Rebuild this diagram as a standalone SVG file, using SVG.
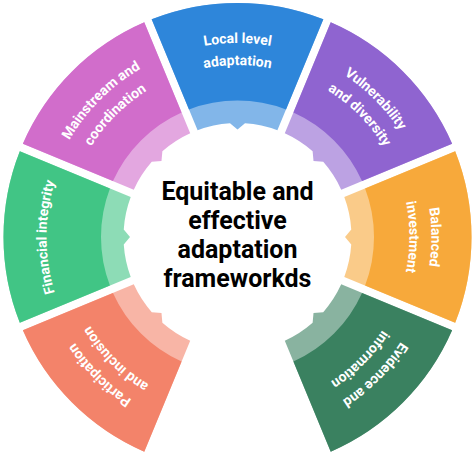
<svg xmlns="http://www.w3.org/2000/svg" xmlns:xlink="http://www.w3.org/1999/xlink" width="474" height="455" viewBox="0 0 474 455">
  <style>
    .l { fill-opacity: 0.6; }
    .lbl { font-family: Roboto, "Liberation Sans", sans-serif; font-weight: 700; font-size: 14px; fill: #FFFFFF; text-anchor: middle; }
    .ctr { font-family: Roboto, "Liberation Sans", sans-serif; font-weight: 700; font-size: 25px; fill: #000000; text-anchor: middle; }
  </style>
  <defs>
    <path id="light" d="M -85.84 -217.69 A 234 234 0 0 1 85.84 -217.69 L 39.90 -106.79 A 114 114 0 0 0 7.5 -113.75 L 0 -107.5 L -7.5 -113.75 A 114 114 0 0 0 -39.90 -106.79 Z"/>
    <path id="dark" d="M -85.84 -217.69 A 234 234 0 0 1 85.84 -217.69 L 48.52 -127.59 A 136.5 136.5 0 0 0 -48.52 -127.59 Z"/>
    <path id="a1" d="M -111.28 -158.92 A 194 194 0 0 1 111.28 -158.92"/>
    <path id="a2" d="M -98.66 -140.89 A 172 172 0 0 1 98.66 -140.89"/>
    <path id="a0" d="M -109.55 -156.45 A 191 191 0 0 1 109.55 -156.45"/>
  </defs>
  <rect width="474" height="455" fill="#FFFFFF"/>
  <g id="local-level" transform="translate(237.5 237)" fill="#2E86DA">
    <use href="#light" class="l"/>
    <use href="#dark"/>
    <text class="lbl"><textPath href="#a1" startOffset="50%">Local level</textPath></text>
    <text class="lbl"><textPath href="#a2" startOffset="50%">adaptation</textPath></text>
  </g>
  <g id="vulnerability" transform="translate(237.5 237) rotate(45)" fill="#8F64D0">
    <use href="#light" class="l"/>
    <use href="#dark"/>
    <text class="lbl"><textPath href="#a1" startOffset="50%">Vulnerability</textPath></text>
    <text class="lbl"><textPath href="#a2" startOffset="50%">and diversity</textPath></text>
  </g>
  <g id="balanced" transform="translate(237.5 237) rotate(90)" fill="#F7A93B">
    <use href="#light" class="l"/>
    <use href="#dark"/>
    <text class="lbl"><textPath href="#a1" startOffset="50%">Balanced</textPath></text>
    <text class="lbl"><textPath href="#a2" startOffset="50%">investment</textPath></text>
  </g>
  <g id="evidence" transform="translate(237.5 237) rotate(135)" fill="#3A8160">
    <use href="#light" class="l"/>
    <use href="#dark"/>
    <text class="lbl"><textPath href="#a1" startOffset="50%">Evidence and</textPath></text>
    <text class="lbl"><textPath href="#a2" startOffset="50%">information</textPath></text>
  </g>
  <g id="participation" transform="translate(237.5 237) rotate(225)" fill="#F3836A">
    <use href="#light" class="l"/>
    <use href="#dark"/>
    <text class="lbl"><textPath href="#a1" startOffset="50%">Participation</textPath></text>
    <text class="lbl"><textPath href="#a2" startOffset="50%">and inclusion</textPath></text>
  </g>
  <g id="financial" transform="translate(237.5 237) rotate(270)" fill="#41C585">
    <use href="#light" class="l"/>
    <use href="#dark"/>
    <text class="lbl"><textPath href="#a0" startOffset="50%">Financial integrity</textPath></text>
  </g>
  <g id="mainstream" transform="translate(237.5 237) rotate(315)" fill="#D16DCB">
    <use href="#light" class="l"/>
    <use href="#dark"/>
    <text class="lbl"><textPath href="#a1" startOffset="50%">Mainstream and</textPath></text>
    <text class="lbl"><textPath href="#a2" startOffset="50%">coordination</textPath></text>
  </g>
  <g id="center">
    <text class="ctr" x="237.5" y="200">Equitable and</text>
    <text class="ctr" x="237.5" y="229">effective</text>
    <text class="ctr" x="237.5" y="258">adaptation</text>
    <text class="ctr" x="237.5" y="287">frameworkds</text>
  </g>
  <g id="connectors"/>
</svg>
